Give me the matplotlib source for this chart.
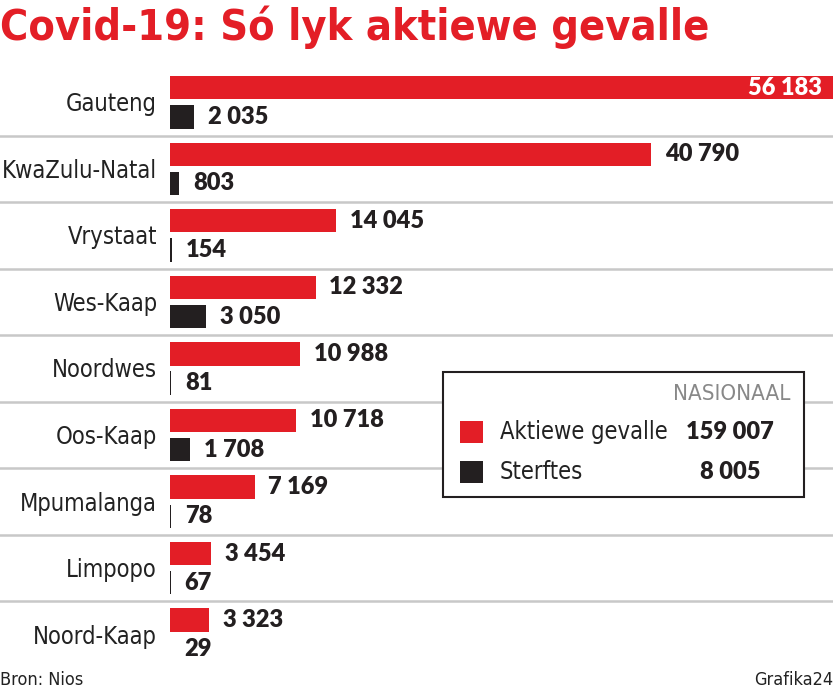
import matplotlib
matplotlib.use("Agg")
import matplotlib.pyplot as plt
from matplotlib.transforms import blended_transform_factory
from matplotlib.patches import Rectangle

provinces = ["Gauteng", "KwaZulu-Natal", "Vrystaat", "Wes-Kaap", "Noordwes",
             "Oos-Kaap", "Mpumalanga", "Limpopo", "Noord-Kaap"]
active = [56183, 40790, 14045, 12332, 10988, 10718, 7169, 3454, 3323]
deaths = [2035, 803, 154, 3050, 81, 1708, 78, 67, 29]
total_active = 159007
total_deaths = 8005

RED = "#e31e26"
BLACK = "#231f20"
GRID = "#c8c8c8"
NARROW = dict(family="DejaVu Sans", fontstretch="condensed")
NUM = dict(family=["Lato", "DejaVu Sans"], fontweight="heavy")


def fmt(v):
    return f"{v:,}".replace(",", " ")


fig = plt.figure(figsize=(8.33, 6.9), dpi=100)
ax = fig.add_axes([170 / 833, 1 - 668 / 690, 1 - 170 / 833, (668 - 69) / 690])

y = list(range(len(provinces)))
ax.barh([i - 0.22 for i in y], active, height=0.35, color=RED, zorder=3)
ax.barh([i + 0.22 for i in y], deaths, height=0.35, color=BLACK, zorder=3)
ax.set_xlim(0, max(active))
ax.set_ylim(len(provinces) - 0.5, -0.5)
ax.axis("off")

# separator lines across whole width
trans = blended_transform_factory(fig.transFigure, ax.transData)
for i in range(len(provinces) - 1):
    ax.plot([0, 1], [i + 0.5, i + 0.5], color=GRID, lw=1.8, transform=trans,
            clip_on=False, zorder=1)

# province labels
for i, name in enumerate(provinces):
    ax.text(157 / 833, i + 0.03, name, transform=trans, ha="right", va="center",
            fontsize=17, color="#222222", **NARROW)

# value labels
for i, (a, d) in enumerate(zip(active, deaths)):
    if a == max(active):
        ax.annotate(fmt(a), (a, i - 0.22), xytext=(-8, 0), textcoords="offset points",
                    ha="right", va="center", fontsize=17, color="white", zorder=4, **NUM)
    else:
        ax.annotate(fmt(a), (a, i - 0.22), xytext=(10, 0), textcoords="offset points",
                    ha="left", va="center", fontsize=17, color=BLACK, zorder=4, **NUM)
    ax.annotate(fmt(d), (d, i + 0.22), xytext=(10, 0), textcoords="offset points",
                ha="left", va="center", fontsize=17, color=BLACK, zorder=4, **NUM)

# title
fig.text(0, 1 - 27 / 690, "Covid-19: Só lyk aktiewe gevalle", ha="left", va="center",
         fontsize=31, fontweight="bold", color=RED, **NARROW)

# legend box
fig.patches.append(Rectangle((443 / 833, 1 - 497 / 690), (804 - 443) / 833, (497 - 372) / 690,
                             transform=fig.transFigure, facecolor="white",
                             edgecolor=BLACK, lw=1.5, zorder=5))
fig.text(790 / 833, 1 - 394 / 690, "NASIONAAL", ha="right", va="center",
         fontsize=16, color="#888888", zorder=6, **NARROW)
for yy, col, lab, val in [(432, RED, "Aktiewe gevalle", total_active),
                          (472, BLACK, "Sterftes", total_deaths)]:
    fig.patches.append(Rectangle((460 / 833, 1 - (yy + 11) / 690), 23 / 833, 22 / 690,
                                 transform=fig.transFigure, facecolor=col,
                                 edgecolor="none", zorder=6))
    fig.text(500 / 833, 1 - yy / 690, lab, ha="left", va="center", fontsize=17,
             color="#222222", zorder=6, **NARROW)
    fig.text(730 / 833, 1 - yy / 690, fmt(val), ha="center", va="center", fontsize=17,
             color=BLACK, zorder=6, **NUM)

# footer
fig.text(0, 1 - 680 / 690, "Bron: Nios", ha="left", va="center", fontsize=13,
         color="#222222", **NARROW)
fig.text(1, 1 - 680 / 690, "Grafika24", ha="right", va="center", fontsize=13,
         color="#222222", **NARROW)

fig.savefig("out.png", dpi=100, facecolor="white")
